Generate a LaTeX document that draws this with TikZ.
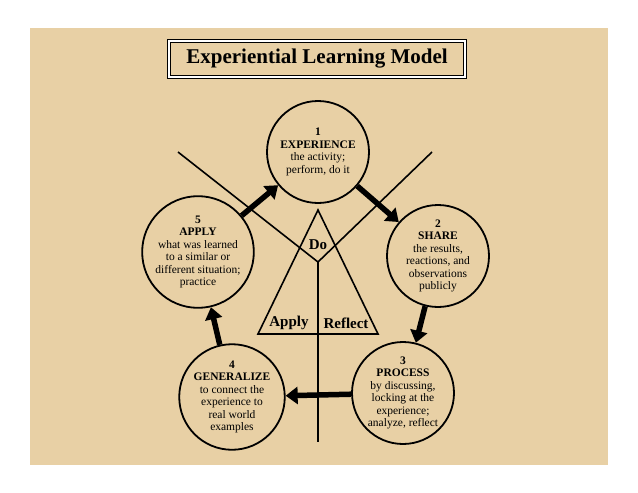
\documentclass[tikz,border=0pt]{standalone}
\usepackage{fontspec}
\setmainfont{Liberation Serif}
\usetikzlibrary{arrows.meta}
\definecolor{parch}{RGB}{232,208,165}
\begin{document}
\begin{tikzpicture}[x=1pt,y=-1pt,
  circ/.style={circle,draw,line width=1.8pt,minimum size=102pt,fill=parch,align=center,font=\fontsize{11.5}{12.5}\selectfont,inner sep=0pt},
  fat/.style={line width=5.5pt,-{Triangle[length=12pt,width=17pt]}}]
\useasboundingbox (0,0) rectangle (638,493);
\fill[white] (0,0) rectangle (638,493);
\fill[parch] (30,28) rectangle (608,465);
\node[draw,line width=1pt,double,double distance=2pt,minimum width=296pt,minimum height=36pt,font=\bfseries\fontsize{21}{24}\selectfont] (t) at (317,59) {Experiential Learning Model};
\coordinate (L) at (178,152);
\coordinate (R) at (432,152);
\coordinate (J) at (318,262);
\coordinate (B) at (318,442);
\draw[line width=1.6pt] (L) -- (J) -- (R);
\draw[line width=1.6pt] (J) -- (B);
\coordinate (A) at (318,210);
\coordinate (P) at (258,334);
\coordinate (Q) at (378,334);
\draw[line width=1.6pt] (A) -- (P) -- (Q) -- cycle;
\node[font=\bfseries\fontsize{15}{16}\selectfont] (do) at (318,245) {Do};
\node[font=\bfseries\fontsize{15}{16}\selectfont] (ap) at (289,323) {Apply};
\node[font=\bfseries\fontsize{15}{16}\selectfont] (re) at (346,323) {Reflect};
\node[circ] (c1) at (318,152) {\textbf{1}\\\textbf{EXPERIENCE}\\the activity;\\perform, do it};
\node[circ] (c2) at (438,256) {\textbf{2}\\\textbf{SHARE}\\the results,\\reactions, and\\observations\\publicly};
\node[circ] (c3) at (403,393) {\textbf{3}\\\textbf{PROCESS}\\by discussing,\\locking at the\\experience;\\analyze, reflect};
\node[circ] (c4) at (232,397) {\textbf{4}\\\textbf{GENERALIZE}\\to connect the\\experience to\\real world\\examples};
\node[circ] (c5) at (198,252) {\textbf{5}\\\textbf{APPLY}\\what was learned\\to a similar or\\different situation;\\practice};
\draw[fat] (c1) -- (c2);
\draw[fat] (c2) -- (c3);
\draw[fat] (c3) -- (c4);
\draw[fat] (c4) -- (c5);
\draw[fat] (c5) -- (c1);
\end{tikzpicture}
\end{document}
